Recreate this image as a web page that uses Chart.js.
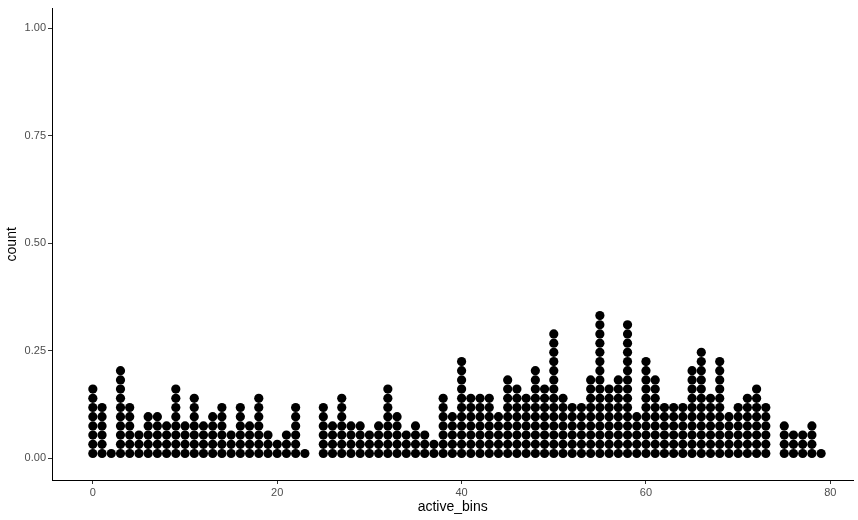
<!DOCTYPE html>
<html>
<head>
<meta charset="utf-8">
<script src="https://cdn.jsdelivr.net/npm/chart.js@4/dist/chart.umd.min.js"></script>
<style>
  body { margin: 0; background: #fff; }
  canvas { display: block; }
</style>
</head>
<body>
<canvas id="c" width="858" height="520"></canvas>
<script>
// dots per bin, bins 0..79 (binwidth 1)
const bins = Array.from({ length: 80 }, (_, i) => i);
const dotCounts = [
  8, 6, 1, 10, 6, 3, 5, 5, 4, 8,
  4, 7, 4, 5, 6, 3, 6, 4, 7, 3,
  2, 3, 6, 1, 0, 6, 4, 7, 4, 4,
  3, 4, 8, 5, 3, 4, 3, 2, 7, 5,
  11, 7, 7, 7, 5, 9, 8, 7, 10, 8,
  14, 7, 6, 6, 9, 16, 8, 9, 15, 5,
  11, 9, 6, 6, 6, 10, 12, 7, 11, 5,
  6, 7, 8, 6, 0, 4, 3, 3, 4, 1
];
const yTicks = [0, 0.25, 0.5, 0.75, 1];
const xTicks = [0, 20, 40, 60, 80];
const dotStep = 0.0214; // one dot's height in count units

// ── stack the dots ──
const points = [];
bins.forEach((b, i) => {
  for (let k = 0; k < dotCounts[i]; k++) {
    points.push({ x: b, y: dotStep / 2 + k * dotStep });
  }
});

const tickColor = '#4d4d4d';
const gridOpts = { display: true, drawOnChartArea: false, drawTicks: true, tickLength: 4, tickColor: '#333' };

new Chart(document.getElementById('c'), {
  type: 'scatter',
  data: {
    datasets: [{
      data: points,
      backgroundColor: '#000',
      borderColor: '#000',
      pointRadius: 4.6,
      pointHoverRadius: 4.6,
      borderWidth: 0
    }]
  },
  options: {
    responsive: false,
    animation: false,
    layout: { padding: { top: 5, right: 1 } },
    plugins: { legend: { display: false }, tooltip: { enabled: false } },
    scales: {
      x: {
        type: 'linear',
        min: -4.43, max: 82.5,
        afterBuildTicks: ax => { ax.ticks = xTicks.map(v => ({ value: v })); },
        afterFit: ax => { ax.height = 40; },
        grid: gridOpts,
        border: { display: true, color: '#000', width: 1 },
        ticks: { color: tickColor, font: { family: 'Liberation Sans', size: 11 }, padding: 2 },
        title: { display: true, text: 'active_bins', color: '#000', font: { family: 'Liberation Sans', size: 14 }, padding: { top: 0 } }
      },
      y: {
        min: -0.051, max: 1.046,
        afterBuildTicks: ax => { ax.ticks = yTicks.map(v => ({ value: v })); },
        afterFit: ax => { ax.width = 52; },
        grid: gridOpts,
        border: { display: true, color: '#000', width: 1 },
        ticks: { color: tickColor, font: { family: 'Liberation Sans', size: 11 }, padding: 2,
                 callback: v => v.toFixed(2) },
        title: { display: true, text: 'count', color: '#000', font: { family: 'Liberation Sans', size: 14 }, padding: { bottom: 0 } }
      }
    }
  }
});
</script>
</body>
</html>
